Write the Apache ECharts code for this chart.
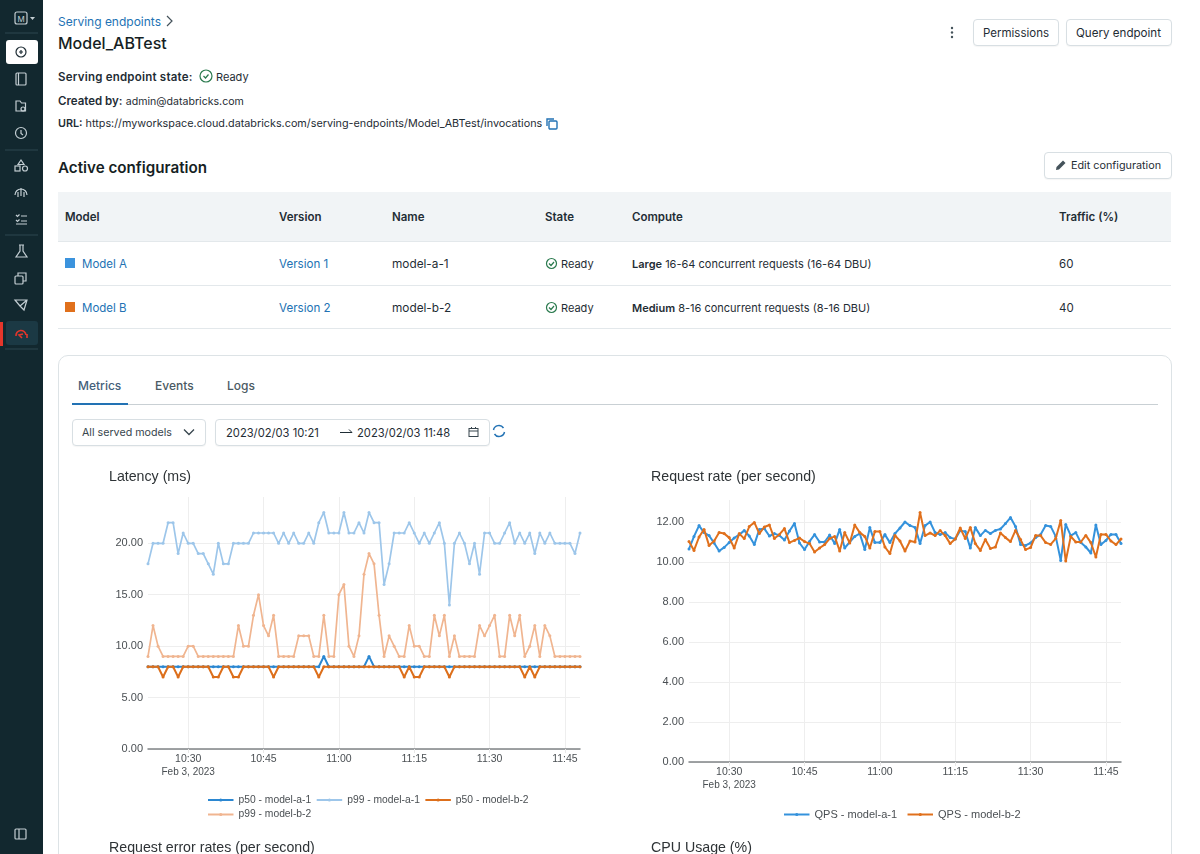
<!DOCTYPE html>
<html>
<head>
<meta charset="utf-8">
<title>Model_ABTest</title>
<script src="https://cdn.jsdelivr.net/npm/echarts@6/dist/echarts.min.js"></script>
<style>
html, body { margin: 0; padding: 0; background: #fff; }
body { position: relative; width: 1200px; height: 854px; overflow: hidden; font-family: Inter, "Noto Sans", sans-serif; color: #1f2d35; font-size: 11.5px; }
.t { position: absolute; white-space: nowrap; line-height: 16px; }
.b { font-weight: 600; }
.link { color: #2272b4; }
.box { position: absolute; box-sizing: border-box; border: 1px solid #d8dfe3; border-radius: 4px; background: #fff; box-shadow: 0 1px 1px rgba(0,0,0,.04); }
.rule { position: absolute; }
#side { position: absolute; left: 0; top: 0; width: 43px; height: 854px; background: #12282f; }
#side svg { position: absolute; left: 0; top: 0; }
#chart { position: absolute; left: 60px; top: 460px; width: 1110px; height: 394px; }
</style>
</head>
<body>
<div id="side">
  <div class="rule" style="left:6px;top:40px;width:32px;height:24px;background:#fff;border-radius:3px"></div>
  <div class="rule" style="left:6px;top:321px;width:32px;height:24px;background:#1b3944;border-radius:3px"></div>
  <div class="rule" style="left:0;top:322px;width:3px;height:24px;background:#e5362b"></div>
  <svg width="43" height="854" fill="none" stroke="#c3ced3" stroke-width="1.2">
    <rect x="15" y="12" width="12" height="12" rx="2"/><text x="21" y="21.500" font-size="8" fill="#c3ced3" stroke="none" text-anchor="middle" font-family="Inter">M</text>
    <path d="M30 17h5l-2.500 3z" fill="#c3ced3" stroke="none"/>
    <path d="M5 33h33M5 150h33M5 235h33M5 349h33" stroke="#2c4650"/>
    <circle cx="21" cy="52" r="5" stroke="#1f2d35"/><path d="M19 52h4M21 50v4" stroke="#1f2d35"/>
    <rect x="16" y="73" width="10" height="12" rx="1"/><path d="M18.500 73v12"/>
    <path d="M16 101h4l1.500 2h4v8h-9.500z"/><circle cx="23" cy="109" r="2"/>
    <circle cx="21" cy="133" r="5.500"/><path d="M21 130v3.500l2 1.500"/>
    <path d="M21 160l3 4.500h-6z"/><rect x="15" y="166" width="5" height="5"/><circle cx="25" cy="168.500" r="2.500"/>
    <path d="M15 195a6 6 0 0 1 12 0M21 188v8M18 192v5M24 192v5"/>
    <path d="M16 215l1.500 1.500 2-2M21 216h6M16 220l1.500 1.500 2-2M21 221h6M16 224h11"/>
    <path d="M19 245h5M20 245v6l-4 6h11l-4-6v-6"/>
    <rect x="15" y="276" width="8" height="8" rx="1"/><path d="M18 276v-3h8v8h-3"/>
    <path d="M15 300l12 0-3 10-4-4-5-6zM20 306l7-6"/>
    <path d="M16 336a5 5 0 0 1 10-1M22 338l-3-3 4-1M27 338v-4" stroke="#e5362b" stroke-width="1.600"/>
    <rect x="15" y="829" width="11" height="10" rx="1"/><path d="M19 829v10"/>
  </svg>
</div>

<div class="t link" style="left:58px;top:14px;font-size:12px">Serving endpoints</div>
<svg style="position:absolute;left:164px;top:15px" width="10" height="12" fill="none" stroke="#44525a" stroke-width="1.200"><path d="M3 1l5 5-5 5"/></svg>
<div class="t" style="left:58px;top:34px;font-size:16px;line-height:18px;font-weight:500;color:#161f24">Model_ABTest</div>
<div class="t" style="left:58px;top:69px;font-weight:600;letter-spacing:.22px">Serving endpoint state:</div>
<svg style="position:absolute;left:199px;top:69px" width="15" height="15" fill="none" stroke="#2a7a4e" stroke-width="1.200"><circle cx="7" cy="7" r="6"/><path d="M4.500 7l2 2 3-3.500"/></svg>
<div class="t" style="left:216px;top:69px;font-size:11px">Ready</div>
<div class="t" style="left:58px;top:93px"><span class="b">Created by:</span> <span style="font-size:10.600px">admin@databricks.com</span></div>
<div class="t" style="left:58px;top:116px;font-size:10.800px"><span class="b">URL:</span> https://myworkspace.cloud.databricks.com/serving-endpoints/Model_ABTest/invocations</div>
<svg style="position:absolute;left:545px;top:117px" width="14" height="14" fill="none" stroke="#2272b4" stroke-width="1.400"><rect x="4" y="4" width="8" height="8" rx="1"/><path d="M2 9V2h7"/></svg>
<div class="t" style="left:58px;top:160px;font-size:15.200px;font-weight:600;color:#161f24">Active configuration</div>

<svg style="position:absolute;left:949px;top:26px" width="6" height="14" fill="#44525a"><circle cx="3" cy="2" r="1.200"/><circle cx="3" cy="6.500" r="1.200"/><circle cx="3" cy="11" r="1.200"/></svg>
<div class="box" style="left:973px;top:19px;width:86px;height:27px"></div>
<div class="t" style="left:983px;top:25px;font-size:11.500px">Permissions</div>
<div class="box" style="left:1066px;top:19px;width:106px;height:27px"></div>
<div class="t" style="left:1076px;top:25px;font-size:11.600px">Query endpoint</div>
<div class="box" style="left:1044px;top:152px;width:128px;height:27px"></div>
<svg style="position:absolute;left:1055px;top:159px" width="12" height="12" fill="#44525a"><path d="M1 11l.5-3L8 1.500l2.500 2.500L4 10.500z"/></svg>
<div class="t" style="left:1071px;top:158px;font-size:10.800px">Edit configuration</div>

<div class="rule" style="left:58px;top:192px;width:1113px;height:49px;background:#f1f4f6"></div>
<div class="rule" style="left:58px;top:241px;width:1113px;height:1px;background:#e3e8eb"></div>
<div class="rule" style="left:58px;top:285px;width:1113px;height:1px;background:#e3e8eb"></div>
<div class="rule" style="left:58px;top:328px;width:1113px;height:1px;background:#e3e8eb"></div>
<div class="t b" style="left:65px;top:209px">Model</div>
<div class="t b" style="left:279px;top:209px">Version</div>
<div class="t b" style="left:392px;top:209px">Name</div>
<div class="t b" style="left:545px;top:209px">State</div>
<div class="t b" style="left:632px;top:209px">Compute</div>
<div class="t b" style="left:1059px;top:209px">Traffic (%)</div>

<div class="rule" style="left:65px;top:258px;width:10px;height:10px;background:#3b93dd"></div>
<div class="t link" style="left:82px;top:256px;font-size:11.500px">Model A</div>
<div class="t link" style="left:279px;top:256px;font-size:11.600px">Version 1</div>
<div class="t" style="left:392px;top:256px;font-size:11.800px">model-a-1</div>
<svg style="position:absolute;left:545px;top:257px" width="13" height="13" fill="none" stroke="#2a7a4e" stroke-width="1.200"><circle cx="6.500" cy="6.500" r="5"/><path d="M4 6.500l2 2 3-3.500"/></svg>
<div class="t" style="left:561px;top:256px;font-size:11px">Ready</div>
<div class="t" style="left:632px;top:256px;font-size:11px"><span class="b">Large</span> 16-64 concurrent requests (16-64 DBU)</div>
<div class="t" style="left:1059px;top:256px;font-size:11.500px">60</div>

<div class="rule" style="left:65px;top:302px;width:10px;height:10px;background:#e0701c"></div>
<div class="t link" style="left:82px;top:299.500px;font-size:11.500px">Model B</div>
<div class="t link" style="left:279px;top:299.500px;font-size:11.600px">Version 2</div>
<div class="t" style="left:392px;top:299.500px;font-size:11.800px">model-b-2</div>
<svg style="position:absolute;left:545px;top:301px" width="13" height="13" fill="none" stroke="#2a7a4e" stroke-width="1.200"><circle cx="6.500" cy="6.500" r="5"/><path d="M4 6.500l2 2 3-3.500"/></svg>
<div class="t" style="left:561px;top:299.500px;font-size:11px">Ready</div>
<div class="t" style="left:632px;top:299.500px;font-size:11px"><span class="b">Medium</span> 8-16 concurrent requests (8-16 DBU)</div>
<div class="t" style="left:1059px;top:299.500px;font-size:11.500px">40</div>

<div class="rule" style="left:58px;top:355px;width:1112px;height:520px;border:1px solid #dde3e6;border-radius:10px"></div>
<div class="t" style="left:78px;top:378px;font-size:12px;font-weight:500;color:#44607a">Metrics</div>
<div class="t" style="left:155px;top:378px;font-size:12px;font-weight:500;color:#4b5a63">Events</div>
<div class="t" style="left:227px;top:378px;font-size:12px;font-weight:500;color:#4b5a63">Logs</div>
<div class="rule" style="left:72px;top:404px;width:1086px;height:1px;background:#c9d0d4"></div>
<div class="rule" style="left:72px;top:403px;width:56px;height:2px;background:#2272b4"></div>

<div class="box" style="left:72px;top:419px;width:134px;height:27px"></div>
<div class="t" style="left:82px;top:425px;font-size:10.700px;color:#38464e">All served models</div>
<svg style="position:absolute;left:183px;top:428px" width="12" height="9" fill="none" stroke="#38464e" stroke-width="1.300"><path d="M1 1.500l5 5 5-5"/></svg>
<div class="box" style="left:215px;top:419px;width:275px;height:27px"></div>
<div class="t" style="left:226px;top:425px;font-size:11.200px">2023/02/03 10:21</div>
<svg style="position:absolute;left:340px;top:428px" width="14" height="9" fill="none" stroke="#1f2d35"><path d="M0 4.500h12M9 1.500l3 3"/></svg>
<div class="t" style="left:357px;top:425px;font-size:11.200px">2023/02/03 11:48</div>
<svg style="position:absolute;left:467px;top:426px" width="13" height="13" fill="none" stroke="#38464e"><rect x="2" y="2.500" width="9" height="8"/><path d="M2 5h9M4.500 1v2M8.500 1v2"/></svg>
<svg style="position:absolute;left:492px;top:424px" width="14" height="14" fill="none" stroke="#2272b4" stroke-width="1.500"><path d="M1.500 6a5.500 5.500 0 0 1 10-2M12.500 8a5.500 5.500 0 0 1-10 2"/></svg>

<div id="chart"></div>

<script>
var times = [
    '10:22','10:23','10:24','10:25','10:26','10:27','10:28','10:29','10:30','10:31',
    '10:32','10:33','10:34','10:35','10:36','10:37','10:38','10:39','10:40','10:41',
    '10:42','10:43','10:44','10:45','10:46','10:47','10:48','10:49','10:50','10:51',
    '10:52','10:53','10:54','10:55','10:56','10:57','10:58','10:59','11:00','11:01',
    '11:02','11:03','11:04','11:05','11:06','11:07','11:08','11:09','11:10','11:11',
    '11:12','11:13','11:14','11:15','11:16','11:17','11:18','11:19','11:20','11:21',
    '11:22','11:23','11:24','11:25','11:26','11:27','11:28','11:29','11:30','11:31',
    '11:32','11:33','11:34','11:35','11:36','11:37','11:38','11:39','11:40','11:41',
    '11:42','11:43','11:44','11:45','11:46','11:47','11:48'
];
var tickTimes = ['10:30','10:45','11:00','11:15','11:30','11:45'];

var p50A = [
    8,8,8,8,8,8,8,8,8,8, 8,8,8,8,8,8,8,8,8,8, 8,8,8,8,8,8,8,8,8,8,
    8,8,8,8,8,9,8,8,8,8, 8,8,8,8,9,8,8,8,8,8, 8,8,8,8,8,8,8,8,8,8,
    8,8,8,8,8,8,8,8,8,8, 8,8,8,8,8,8,8,8,8,8, 8,8,8,8,8,8,8
];
var p99A = [
    18,20,20,20,22,22,19,21,20,20, 19,19,18,17,20,18,18,20,20,20,
    20,21,21,21,21,21,20,21,20,21, 20,20,21,20,22,23,21,21,21,23,
    21,21,22,21,23,22,22,16,18,21, 21,21,22,21,20,21,20,21,22,20,
    14,20,21,20,18,20,17,21,21,20, 20,21,22,20,21,20,21,19,21,20,
    21,20,20,20,20,19,21
];
var p50B = [
    8,8,8,7,8,8,7,8,8,8, 8,8,8,7,7,8,8,7,7,8, 8,8,8,8,8,7,8,8,8,8,
    8,8,8,8,7,8,8,8,8,8, 8,8,8,8,8,8,8,8,8,8, 8,7,8,7,7,8,8,8,8,8,
    7,8,8,8,8,8,8,8,8,8, 8,8,8,8,8,7,8,7,8,8, 8,8,8,8,8,8,8
];
var p99B = [
    9,12,10,9,9,9,9,9,10,10, 9,9,9,9,9,9,9,9,12,10,
    10,13,15,12,11,13,9,9,9,9, 11,11,11,9,9,13,9,9,15,16,
    10,9,11,17,19,18,13,9,11,10, 9,9,12,10,10,9,9,13,11,13,
    9,11,9,9,9,9,12,11,12,13, 9,9,13,11,13,9,10,12,9,12,
    11,9,9,9,9,9,9
];
var qpsA = [
    10.65,11.28,11.82,11.47,11.32,10.95,10.55,10.73,10.97,11.2,
    11.37,11.57,11.3,10.87,11.63,11.67,11.3,11.42,11.33,11.1,
    11.55,11.93,10.95,10.62,11.03,11.37,11.0,11.0,11.35,10.92,
    11.63,10.7,11.0,11.28,11.42,10.62,11.72,10.97,10.97,11.37,
    10.97,11.42,11.7,12.0,11.82,11.73,10.92,11.82,12.0,11.47,
    11.37,11.47,11.22,11.15,11.58,11.52,10.7,11.72,11.32,11.58,
    11.42,11.58,11.65,11.92,12.22,11.78,10.87,10.83,10.95,11.22,
    11.37,11.82,11.78,11.28,10.08,11.88,11.32,11.47,10.97,10.75,
    10.45,11.85,10.87,11.08,11.38,11.37,10.92
];
var qpsB = [
    11.02,10.58,11.25,11.63,10.82,11.05,11.47,11.42,11.22,10.7,
    11.42,11.17,11.77,11.98,11.42,11.75,11.85,11.17,11.38,11.67,
    10.97,11.08,11.2,11.02,10.92,10.5,10.7,10.87,11.17,11.28,
    10.55,11.47,10.95,11.85,11.47,11.28,10.7,11.52,11.52,10.75,
    10.42,11.33,11.05,10.55,11.05,11.0,12.47,11.32,11.45,11.32,
    11.57,11.32,10.92,11.15,11.7,11.17,11.73,10.92,10.58,11.13,
    10.67,10.75,11.45,11.22,11.02,11.58,11.12,10.62,10.72,11.33,
    11.32,10.97,10.88,11.17,12.08,10.05,11.28,11.0,11.0,11.33,
    10.97,10.25,11.38,11.38,11.05,10.87,11.15
];

var chartFont = '"Liberation Sans", Arial, sans-serif';
var labelColor = '#4a4f53';

function isTick(idx, val) {
    return tickTimes.indexOf(val) >= 0;
}

function xAxisFor(gridIndex) {
    return {
        type: 'category',
        gridIndex: gridIndex,
        data: times,
        boundaryGap: false,
        axisLine: { lineStyle: { color: '#808487', width: 1.5 } },
        axisTick: { show: true, length: 4, interval: isTick, lineStyle: { color: '#e8e8e8' } },
        splitLine: { show: true, interval: isTick, lineStyle: { color: '#eeeeee' } },
        axisLabel: {
            interval: isTick,
            color: labelColor,
            fontFamily: chartFont,
            fontSize: 10.5,
            margin: 5,
            rich: {
                d: { color: labelColor, fontFamily: chartFont, fontSize: 10, lineHeight: 13, padding: [1, 0, 0, 0] }
            },
            formatter: function (val) {
                return val === '10:30' ? val + '\n{d|Feb 3, 2023}' : val;
            }
        }
    };
}

function yAxisFor(gridIndex, max, step) {
    return {
        type: 'value',
        gridIndex: gridIndex,
        min: 0,
        max: max,
        interval: step,
        axisLine: { show: false },
        axisTick: { show: false },
        splitLine: { showMaxLine: false, lineStyle: { color: '#eeeeee' } },
        axisLabel: {
            showMaxLabel: false,
            color: labelColor,
            fontFamily: chartFont,
            fontSize: 11,
            margin: 5,
            formatter: function (v) { return v.toFixed(2); }
        }
    };
}

function lineSeries(name, data, color, lineWidth, gridIndex, z) {
    return {
        type: 'line',
        name: name,
        data: data,
        xAxisIndex: gridIndex,
        yAxisIndex: gridIndex,
        z: z,
        symbol: 'circle',
        symbolSize: 3,
        showSymbol: true,
        showAllSymbol: true,
        lineStyle: { color: color, width: lineWidth },
        itemStyle: { color: color }
    };
}

function legendFor(names, left, top, width, fontSize, textWidth, gap) {
    return {
        data: names,
        left: left,
        top: top,
        width: width,
        orient: 'horizontal',
        padding: 0,
        itemWidth: 25.5,
        itemHeight: 4,
        itemGap: gap,
        textStyle: { color: labelColor, fontFamily: chartFont, fontSize: fontSize, width: textWidth }
    };
}

function titleFor(text, left, top) {
    return {
        text: text,
        left: left,
        top: top,
        padding: 0,
        textStyle: { color: '#2e3336', fontFamily: chartFont, fontSize: 14.2, fontWeight: 'normal' }
    };
}

var chart = echarts.init(document.getElementById('chart'));
chart.setOption({
    animation: false,
    title: [
        titleFor('Latency (ms)', 49, 10),
        titleFor('Request rate (per second)', 591, 10),
        titleFor('Request error rates (per second)', 49, 381),
        titleFor('CPU Usage (%)', 591, 381)
    ],
    legend: [
        legendFor(['p50 - model-a-1', 'p99 - model-a-1', 'p50 - model-b-2', 'p99 - model-b-2'], 147, 335, 345, 10.3, 77, 4.5),
        legendFor(['QPS - model-a-1', 'QPS - model-b-2'], 723, 349, 250, 11, 80, 9.5)
    ],
    grid: [
        { left: 88, top: 37, width: 432, height: 252 },
        { left: 629, top: 40, width: 432, height: 262 }
    ],
    xAxis: [xAxisFor(0), xAxisFor(1)],
    yAxis: [yAxisFor(0, 24.5, 5), yAxisFor(1, 13.1, 2)],
    series: [
        lineSeries('p50 - model-a-1', p50A, '#2b87d1', 2, 0, 3),
        lineSeries('p99 - model-a-1', p99A, '#9dc6ea', 1.7, 0, 2),
        lineSeries('p50 - model-b-2', p50B, '#dd6f1b', 2, 0, 4),
        lineSeries('p99 - model-b-2', p99B, '#f0b590', 1.7, 0, 2),
        lineSeries('QPS - model-a-1', qpsA, '#3492dc', 2, 1, 2),
        lineSeries('QPS - model-b-2', qpsB, '#e0701c', 2, 1, 3)
    ]
});
</script>
</body>
</html>
